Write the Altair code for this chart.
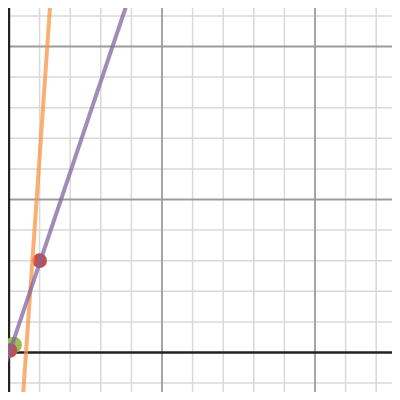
import altair as alt
import pandas as pd

# grid positions (data units)
minor_x = [1, 2, 3, 4, 6, 7, 8, 9, 11, 12]
major_x = [5, 10]
axis_x = [0]
minor_y = [-1, 1, 2, 3, 4, 6, 7, 8, 9, 11]
major_y = [5, 10]
axis_y = [0]

# lines (read endpoints, clipped to view)
orange_x = [0.40, 1.40]
orange_y = [-2.25, 12.15]
purple_x = [-0.60, 4.00]
purple_y = [-1.83, 11.83]

# points
red_x = [1.0, 0.03]
red_y = [3.0, 0.065]
green_x = [0.147]
green_y = [0.245]

XD = [-0.0327, 12.516]
YD = [-1.291, 11.258]
xs = alt.Scale(domain=XD, nice=False, zero=False)
ys = alt.Scale(domain=YD, nice=False, zero=False)


def vrules(vals, color, width):
    return alt.Chart(pd.DataFrame({"v": vals})).mark_rule(color=color, strokeWidth=width).encode(
        x=alt.X("v:Q", scale=xs, axis=None))


def hrules(vals, color, width):
    return alt.Chart(pd.DataFrame({"v": vals})).mark_rule(color=color, strokeWidth=width).encode(
        y=alt.Y("v:Q", scale=ys, axis=None))


def line(xv, yv, color, op):
    return alt.Chart(pd.DataFrame({"x": xv, "y": yv})).mark_line(
        color=color, strokeWidth=4, opacity=op, clip=True).encode(
        x=alt.X("x:Q", scale=xs, axis=None), y=alt.Y("y:Q", scale=ys, axis=None))


def pts(xv, yv, color, size):
    return alt.Chart(pd.DataFrame({"x": xv, "y": yv})).mark_circle(
        color=color, size=size, opacity=1, clip=True).encode(
        x=alt.X("x:Q", scale=xs, axis=None), y=alt.Y("y:Q", scale=ys, axis=None))


chart = alt.layer(
    vrules(minor_x, "#d9d9d9", 1.5),
    hrules(minor_y, "#d9d9d9", 1.5),
    vrules(major_x, "#9c9c9c", 1.8),
    hrules(major_y, "#9c9c9c", 1.8),
    vrules(axis_x, "#222222", 2.4),
    hrules(axis_y, "#222222", 2.4),
    pts(green_x, green_y, "#9bbb59", 280),
    pts(red_x, red_y, "#c0504d", 215),
    line(orange_x, orange_y, "#f79646", 0.75),
    line(purple_x, purple_y, "#8064a2", 0.75),
).properties(width=384, height=384, padding=0, autosize=alt.AutoSizeParams(type="none")).configure_view(stroke=None)

chart.save("out.html", embed_options={"renderer": "svg", "actions": False})
